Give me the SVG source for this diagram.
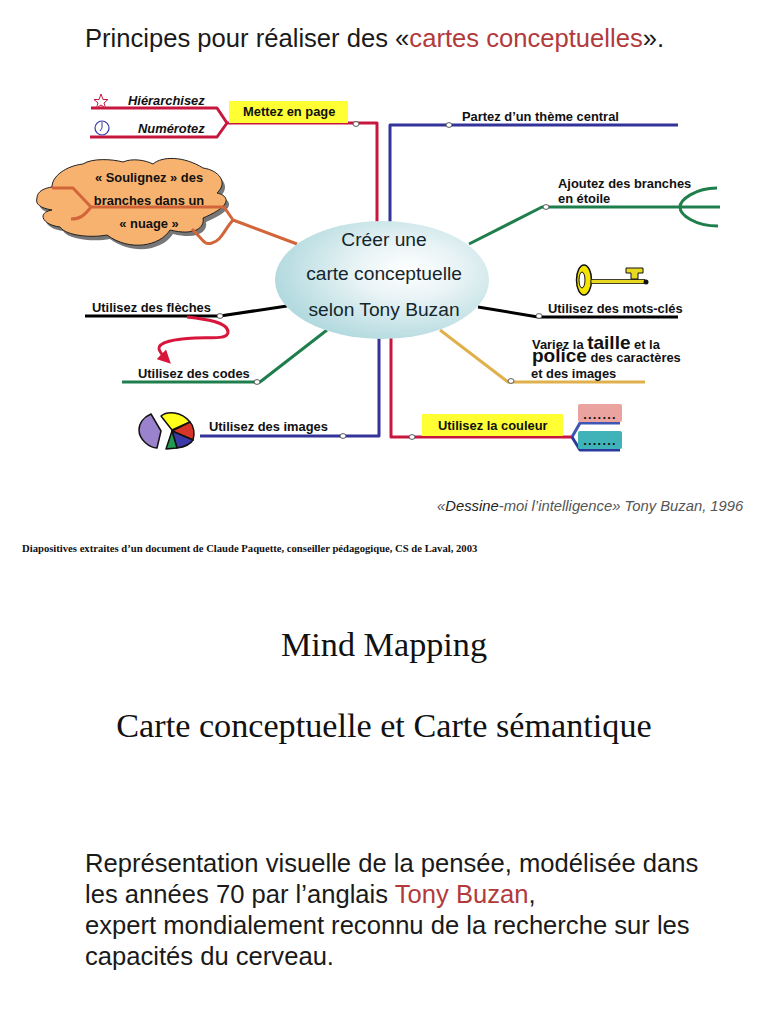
<svg xmlns="http://www.w3.org/2000/svg" width="768" height="1024" viewBox="0 0 768 1024">
<style>
text{font-family:"Liberation Sans",Arial,sans-serif}
.serif{font-family:"Liberation Serif","Times New Roman",serif;fill:#111}
.big{font-size:25.6px;fill:#1a1a1a}
.red{fill:#b23a3c}
.lb{font-size:12.9px;font-weight:bold;fill:#111}
.lbi{font-size:12.9px;font-weight:bold;font-style:italic;fill:#111}
.c{font-size:19.2px;fill:#14262c;text-anchor:middle}
.cl{font-size:12.9px;font-weight:bold;fill:#111;text-anchor:middle}
.l{fill:none;stroke-width:3;stroke-linejoin:round}
.dot{fill:#fff;stroke:#333;stroke-width:.8}
.pie{stroke:#111;stroke-width:1.5;stroke-linejoin:round}
.tall{font-size:19px}
.dots{font-size:12.9px;font-weight:bold;fill:#111;text-anchor:middle;letter-spacing:1.2px}
</style>
<defs>
<radialGradient id="eg" cx="0.62" cy="0.42" r="0.62"><stop offset="0" stop-color="#ffffff"/><stop offset="0.4" stop-color="#e8f3f5"/><stop offset="1" stop-color="#b3dadf"/></radialGradient>
<marker id="ah" viewBox="0 0 10 10" refX="7" refY="5" markerWidth="4.5" markerHeight="4.5" orient="auto"><path d="M0 0L10 5L0 10Z" fill="#d8163c"/></marker>
<path id="cloud" d="M37 198C37 191 45 188 52 187C52 176 66 166 83 164C92 158 112 159 123 162C132 158 145 160 153 164C162 156 184 156 203 168C218 170 229 182 217 193C230 196 232 206 203 218C205 228 194 236 170 230C160 246 130 252 107 235C92 238 66 236 60 227C43 225 36 213 52 210C40 208 35 204 37 198Z"/>
</defs>
<g id="title"><text x="85" y="47" class="big">Principes pour réaliser des «<tspan class="red">cartes conceptuelles</tspan>».</text></g>
<g id="connectors">
<path class="l" stroke="#c8173f" d="M91 108H217L227 123H377V222M90 137H217L227 123"/>
<path class="l" stroke="#34339a" d="M390 224V125H678"/>
<path class="l" stroke="#1f7f4c" d="M469 244L542 207H720M717 188C695 188 680 200 680 207C680 215 695 226 718 226"/>
<path class="l" stroke="#000" d="M85 316H220L287 306M478 307L538 317H678"/>
<path class="l" stroke="#1f7f4c" d="M122 382H260L327 330"/>
<path class="l" stroke="#34339a" d="M200 436H379V337"/>
<path class="l" stroke="#c8173f" d="M391 338V437H572"/>
<path class="l" stroke="#3f56b5" d="M572 437L580 423H620"/>
<path class="l" stroke="#2c3a9e" d="M572 437L580 450H620"/>
<path class="l" stroke="#e0b04c" d="M440 330L508 382H645"/>
<path fill="none" stroke="#d8163c" stroke-width="3" marker-end="url(#ah)" d="M187 317C205 319 228 322 228 332C228 340 210 337 195 338C175 339 158 342 159 349C160 353 165 358 168 361"/>
</g>
<g id="cloud-node">
<use href="#cloud" fill="#777" transform="translate(3 4)"/>
<use href="#cloud" fill="#f8b26f" stroke="#222" stroke-width="1"/>
<path class="l" stroke="#d2663a" d="M52 188H73L91 207H224L233 220L297 244M71 219C80 219 84 216 91 207M233 220C224 230 222 240 212 243C204 245 206 243 192 229"/>
<text x="149" y="182" class="cl">« Soulignez » des</text>
<text x="149" y="205" class="cl">branches dans un</text>
<text x="149" y="228" class="cl">« nuage »</text>
</g>
<g id="center">
<ellipse cx="382" cy="280" rx="107" ry="59" fill="url(#eg)"/>
<text x="384" y="246" class="c">Créer une</text>
<text x="384" y="280" class="c">carte conceptuelle</text>
<text x="384" y="316" class="c">selon Tony Buzan</text>
</g>
<g id="n-page">
<rect x="229" y="101" width="119" height="22" fill="#ffff33"/>
<text x="243" y="116" class="lb">Mettez en page</text>
<text x="128" y="105" class="lbi">Hiérarchisez</text>
<text x="138" y="133" class="lbi">Numérotez</text>
<path d="M101 94L103 99.500L108 99.500L104 103L105.500 108L101 105L96.500 108L98 103L94 99.500L99 99.500Z" fill="#fff" stroke="#c8173f" stroke-width="1"/>
<circle cx="102" cy="128" r="7" fill="#fff" stroke="#3338a8" stroke-width="1.200"/>
<path d="M102 122V128L100 131" fill="none" stroke="#3338a8"/>
<ellipse cx="356" cy="124" rx="3" ry="2.400" class="dot"/>
</g>
<g id="n-theme"><text x="462" y="121" class="lb">Partez d’un thème central</text><ellipse cx="449" cy="125" rx="3" ry="2.400" class="dot"/></g>
<g id="n-etoile"><text x="558" y="188" class="lb">Ajoutez des branches</text><text x="558" y="203" class="lb">en étoile</text><ellipse cx="546" cy="207" rx="3" ry="2.400" class="dot"/></g>
<g id="n-mots">
<ellipse cx="584" cy="280" rx="7.500" ry="15" fill="#f4e400" stroke="#111" stroke-width="1.500"/>
<ellipse cx="582" cy="280" rx="3" ry="8" fill="#fff" stroke="#111"/>
<path d="M591 279.500H645V283.500H591Z" fill="#e8d820" stroke="#111" stroke-width=".8"/>
<path d="M626 268H643V273H638V279H631V273H626Z" fill="#e8d820" stroke="#111"/>
<circle cx="646" cy="282" r="2.500" fill="#111"/>
<text x="548" y="313" class="lb">Utilisez des mots-clés</text>
<ellipse cx="539" cy="316" rx="3" ry="2.400" class="dot"/>
</g>
<g id="n-taille">
<text x="532" y="349" class="lb">Variez la <tspan class="tall">taille</tspan> et la</text>
<text x="532" y="362" class="lb"><tspan class="tall">police</tspan> des caractères</text>
<text x="531" y="378" class="lb">et des images</text>
<ellipse cx="511" cy="381" rx="3" ry="2.400" class="dot"/>
</g>
<g id="n-couleur">
<rect x="422" y="414" width="141" height="22" fill="#ffff33"/>
<text x="438" y="430" class="lb">Utilisez la couleur</text>
<ellipse cx="412" cy="437" rx="3" ry="2.400" class="dot"/>
<rect x="578" y="404" width="44" height="18" rx="2" fill="#eba3a0"/>
<rect x="578" y="431" width="44" height="18" rx="2" fill="#3fb3b8"/>
<text x="600" y="419" class="dots">.......</text>
<text x="600" y="445" class="dots">.......</text>
</g>
<g id="n-fleches"><text x="92" y="312" class="lb">Utilisez des flèches</text><ellipse cx="220" cy="316" rx="3" ry="2.400" class="dot"/></g>
<g id="n-codes"><text x="138" y="378" class="lb">Utilisez des codes</text><ellipse cx="257" cy="382" rx="3" ry="2.400" class="dot"/></g>
<g id="n-images">
<path class="pie" fill="#9a82cc" d="M151 414L161 431L157 448C150 448 139 440 139 430C139 423 144 417 151 414Z"/>
<path class="pie" fill="#ffff1a" d="M161 416C167 411 181 411 190 422L172 430Z"/>
<path class="pie" fill="#d8352a" d="M190 422C194 426 195 434 193 440L172 431Z"/>
<path class="pie" fill="#3c3aa8" d="M172 431L193 440C190 445 184 447 177 448Z"/>
<path class="pie" fill="#1f9a50" d="M172 431L177 448L166 449Z"/>
<text x="209" y="431" class="lb">Utilisez des images</text>
<ellipse cx="343" cy="436" rx="3" ry="2.400" class="dot"/>
</g>
<g id="captions">
<text x="437" y="511" font-size="14.800" font-style="italic" fill="#555">«<tspan fill="#222">Dessine</tspan>-moi l’intelligence» Tony Buzan, 1996</text>
<text x="22" y="552" font-size="10.650" font-weight="bold" class="serif">Diapositives extraites d’un document de Claude Paquette, conseiller pédagogique, CS de Laval, 2003</text>
<text x="384" y="656" font-size="34.200" text-anchor="middle" class="serif">Mind Mapping</text>
<text x="384" y="737" font-size="34.200" text-anchor="middle" class="serif">Carte conceptuelle et Carte sémantique</text>
<text x="85" y="872" class="big">Représentation visuelle de la pensée, modélisée dans</text>
<text x="85" y="903" class="big">les années 70 par l’anglais <tspan class="red">Tony Buzan</tspan>,</text>
<text x="85" y="934" class="big">expert mondialement reconnu de la recherche sur les</text>
<text x="85" y="965" class="big">capacités du cerveau.</text>
</g>
</svg>
